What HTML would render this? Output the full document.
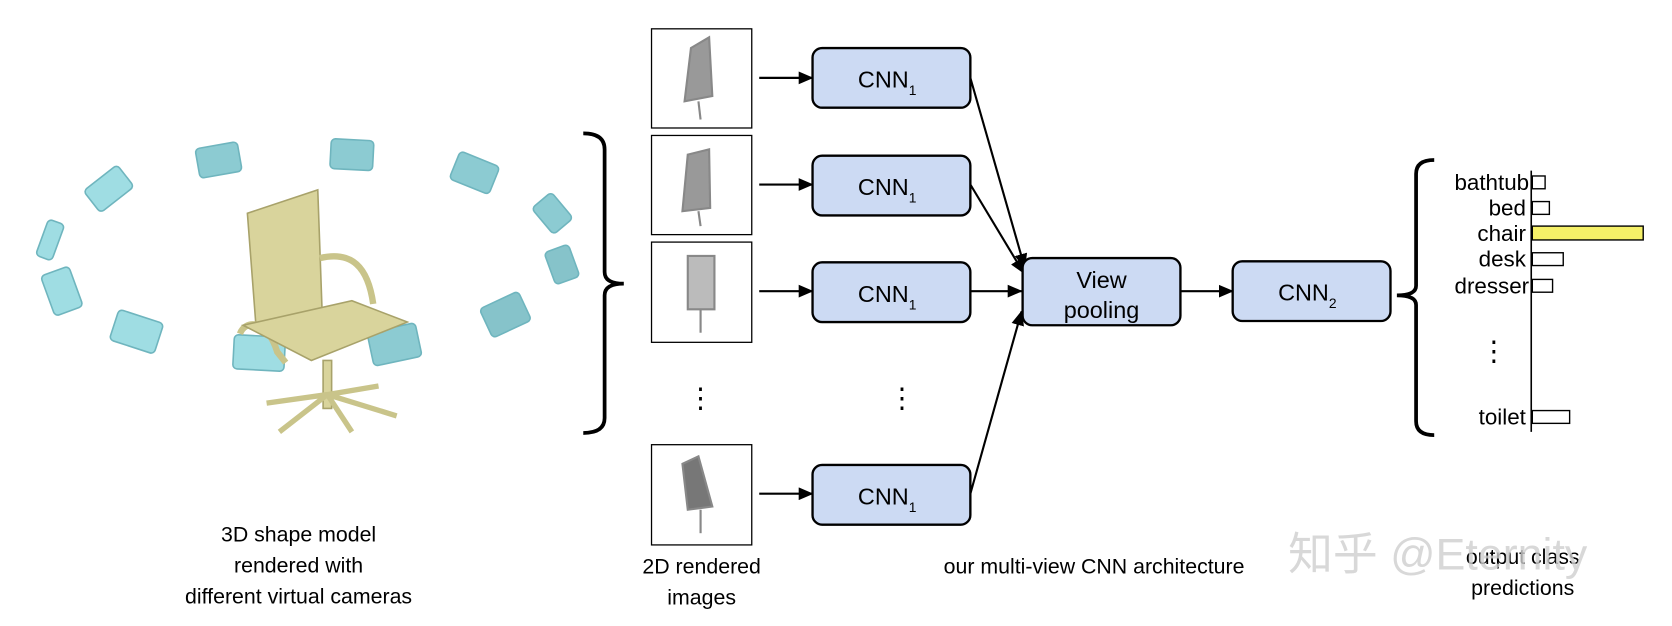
<!DOCTYPE html>
<html><head><meta charset="utf-8"><style>
html,body{margin:0;padding:0;background:#fff;}
svg{display:block;}
text{font-family:"Liberation Sans","Noto Sans CJK SC",sans-serif;fill:#000;}
</style></head><body>
<svg width="1672" height="626" viewBox="0 0 1568 587" xmlns="http://www.w3.org/2000/svg">
<defs>
<marker id="ar" markerWidth="14" markerHeight="12" refX="13" refY="6" orient="auto" markerUnits="userSpaceOnUse">
<path d="M0,0 L14,6 L0,12 z" fill="#000"/></marker>
</defs>
<rect width="1568" height="587" fill="#fff"/>
<!-- cameras -->
<g fill="#9fdde3" stroke="#6fb5be" stroke-width="1.5">
<rect x="-20" y="-14" width="40" height="28" rx="4" transform="translate(205,150) rotate(-10)" fill="#8ccbd2"/>
<rect x="-20" y="-14" width="40" height="28" rx="4" transform="translate(330,145) rotate(3)" fill="#8ccbd2"/>
<rect x="-20" y="-14" width="40" height="28" rx="4" transform="translate(445,162) rotate(22)" fill="#8ccbd2"/>
<rect x="-16" y="-12" width="32" height="24" rx="4" transform="translate(518,200) rotate(50)" fill="#8ccbd2"/>
<rect x="-16" y="-12" width="32" height="24" rx="4" transform="translate(527,248) rotate(70)" fill="#86c3ca"/>
<rect x="-20" y="-13" width="40" height="26" rx="4" transform="translate(102,177) rotate(-38)"/>
<rect x="-18" y="-8" width="36" height="16" rx="4" transform="translate(47,225) rotate(-70)"/>
<rect x="-20" y="-14" width="40" height="28" rx="4" transform="translate(58,273) rotate(70)"/>
<rect x="-22" y="-15" width="44" height="30" rx="4" transform="translate(128,311) rotate(18)"/>
<rect x="-24" y="-16" width="48" height="32" rx="4" transform="translate(243,331) rotate(3)"/>
<rect x="-23" y="-16" width="46" height="32" rx="4" transform="translate(370,323) rotate(-12)" fill="#8ccbd2"/>
<rect x="-20" y="-15" width="40" height="30" rx="4" transform="translate(474,295) rotate(-25)" fill="#86c3ca"/>
</g>
<!-- chair -->
<g fill="#d9d49c" stroke="#a8a26a" stroke-width="1.5">
<polygon points="232,200 298,178 302,290 240,305"/>
<path d="M225,313 C230,300 250,298 260,330 L268,340" fill="none" stroke="#c9c48a" stroke-width="6"/>
<path d="M300,242 C330,235 345,250 350,285" fill="none" stroke="#c9c48a" stroke-width="6"/>
<polygon points="228,305 330,282 382,302 292,338"/>
<rect x="303" y="338" width="8" height="45"/>
<path d="M307,370 L250,378 M307,370 L262,405 M307,370 L330,405 M307,370 L372,390 M307,370 L355,362" stroke="#c9c48a" stroke-width="5" fill="none"/>
</g>
<!-- left brace -->
<path d="M547,125 Q567,125 567,140 L567,255 Q567,266 585,266 Q567,266 567,277 L567,392 Q567,406 547,406" fill="none" stroke="#000" stroke-width="3.5"/>
<!-- image frames -->
<g fill="#fff" stroke="#000" stroke-width="1.2">
<rect x="611" y="27" width="94" height="93"/>
<rect x="611" y="127" width="94" height="93"/>
<rect x="611" y="227" width="94" height="94"/>
<rect x="611" y="417" width="94" height="94"/>
</g>
<g fill="#999" stroke="#888" stroke-width="2">
<polygon points="648,45 665,35 668,90 642,95"/><line x1="655" y1="95" x2="657" y2="112"/>
<polygon points="645,145 665,140 666,195 640,198"/><line x1="655" y1="198" x2="657" y2="212"/>
<polygon points="645,240 670,240 670,290 645,290" fill="#bbb"/><line x1="657" y1="290" x2="657" y2="312"/>
<polygon points="640,435 655,428 668,475 645,478" fill="#777"/><line x1="657" y1="478" x2="657" y2="500"/>
</g>
<text x="657" y="382" font-size="26" text-anchor="middle">⋮</text>
<!-- arrows -->
<g stroke="#000" stroke-width="2" marker-end="url(#ar)">
<line x1="712" y1="73" x2="762" y2="73"/>
<line x1="712" y1="173" x2="762" y2="173"/>
<line x1="712" y1="273" x2="762" y2="273"/>
<line x1="712" y1="463" x2="762" y2="463"/>
<line x1="910" y1="73" x2="961" y2="251"/>
<line x1="910" y1="173" x2="960" y2="256"/>
<line x1="910" y1="273" x2="958" y2="273"/>
<line x1="910" y1="463" x2="958" y2="292"/>
<line x1="1107" y1="273" x2="1156" y2="273"/>
</g>
<!-- boxes -->
<g fill="#ccdaf3" stroke="#000" stroke-width="2.2">
<rect x="762" y="45" width="148" height="56" rx="9"/>
<rect x="762" y="146" width="148" height="56" rx="9"/>
<rect x="762" y="246" width="148" height="56" rx="9"/>
<rect x="762" y="436" width="148" height="56" rx="9"/>
<rect x="959" y="242" width="148" height="63" rx="9"/>
<rect x="1156" y="245" width="148" height="56" rx="9"/>
</g>
<g font-size="22" text-anchor="middle">
<text x="832" y="82">CNN<tspan font-size="13" dy="7">1</tspan></text>
<text x="832" y="183">CNN<tspan font-size="13" dy="7">1</tspan></text>
<text x="832" y="283">CNN<tspan font-size="13" dy="7">1</tspan></text>
<text x="832" y="473">CNN<tspan font-size="13" dy="7">1</tspan></text>
<text x="1033" y="270">View</text>
<text x="1033" y="298">pooling</text>
<text x="1226" y="282">CNN<tspan font-size="13" dy="7">2</tspan></text>
</g>
<text x="846" y="382" font-size="26" text-anchor="middle">⋮</text>
<!-- right brace -->
<path d="M1345,150 Q1328,150 1328,163 L1328,268 Q1328,277 1310,277 Q1328,277 1328,286 L1328,395 Q1328,408 1345,408" fill="none" stroke="#000" stroke-width="3.5"/>
<!-- bar chart -->
<line x1="1436" y1="160" x2="1436" y2="405" stroke="#000" stroke-width="1.5"/>
<g font-size="21" text-anchor="end">
<text x="1434" y="178">bathtub</text>
<text x="1431" y="202">bed</text>
<text x="1431" y="226">chair</text>
<text x="1431" y="250">desk</text>
<text x="1434" y="275">dresser</text>
<text x="1431" y="398">toilet</text>
</g>
<g stroke="#000" stroke-width="1.3" fill="#fff">
<rect x="1437" y="165" width="12" height="12"/>
<rect x="1437" y="189" width="16" height="12"/>
<rect x="1437" y="212" width="104" height="13" fill="#f5f068"/>
<rect x="1437" y="237" width="29" height="12"/>
<rect x="1437" y="262" width="19" height="12"/>
<rect x="1437" y="385" width="35" height="12"/>
</g>
<text x="1401" y="338" font-size="26" text-anchor="middle">⋮</text>
<!-- captions -->
<g font-size="20" text-anchor="middle">
<text x="280" y="508">3D shape model</text>
<text x="280" y="537">rendered with</text>
<text x="280" y="566">different virtual cameras</text>
<text x="658" y="538">2D rendered</text>
<text x="658" y="567">images</text>
<text x="1026" y="538">our multi-view CNN architecture</text>
<text x="1428" y="529">output class</text>
<text x="1428" y="558">predictions</text>
</g>
<text x="1208" y="534" font-size="42" style="fill:#cfcfcf;opacity:0.8">知乎 @Eternity</text>
</svg>
</body></html>
